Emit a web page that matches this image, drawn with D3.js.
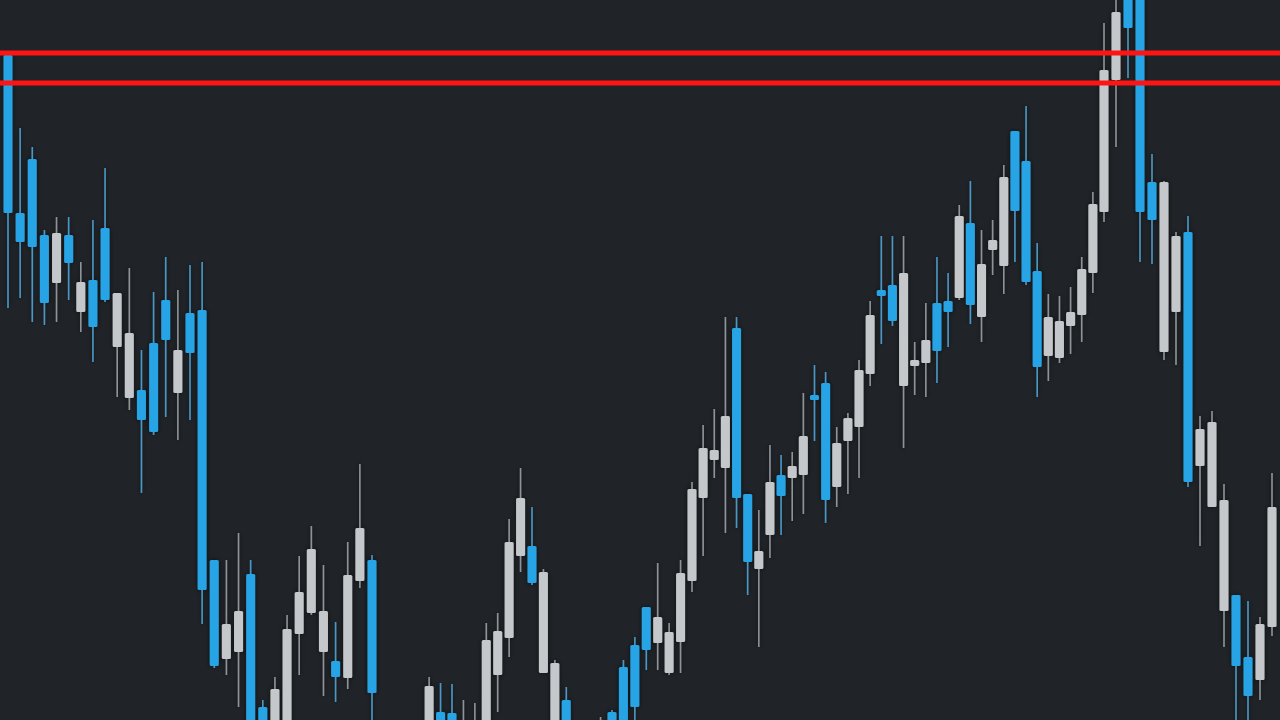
<!DOCTYPE html>
<html>
<head>
<meta charset="utf-8">
<script src="https://cdn.jsdelivr.net/npm/d3@7"></script>
<style>
  html, body { margin: 0; padding: 0; background: #202327; overflow: hidden; }
  svg { display: block; }
</style>
</head>
<body>
<svg id="chart" width="1280" height="720"></svg>
<script>
// ---- Data (price units; one entry per bar, in time order) ----
const opens = [945,787,841,765,717,765,688,720,772,653,602,610,657,700,607,687,690,440,341,348,
  426,293,260,270,366,387,348,339,322,419,440,275,235,255,232,260,288,287,240,242,
  270,325,362,444,454,327,270,300,262,230,255,288,333,355,393,357,327,358,419,502,
  540,532,672,506,431,465,525,522,525,605,617,513,559,573,626,710,715,614,634,637,
  697,699,702,777,683,750,734,869,839,729,644,642,674,685,727,788,920,1010,1020,818,
  648,688,768,534,493,389,405,343,320,373];
const highs = [945,872,853,770,783,783,738,780,832,707,732,650,708,743,710,735,738,440,440,467,
  440,300,323,385,444,474,435,378,458,536,445,278,262,262,270,323,317,316,300,297,
  377,387,481,532,493,431,340,313,275,268,283,290,340,363,393,437,377,440,518,575,
  591,683,683,506,490,555,545,548,607,635,628,573,587,640,699,764,764,764,658,697,
  743,727,795,819,770,780,835,869,894,757,706,704,713,743,808,977,1005,1015,1025,846,
  819,768,784,584,589,516,405,399,383,527];
const lows = [692,702,678,675,678,700,668,638,698,603,590,507,565,583,560,580,376,332,325,293,
  255,260,250,260,325,385,304,298,311,412,270,230,225,220,226,250,250,252,230,232,
  260,288,343,428,415,327,260,250,225,222,250,250,250,275,330,330,325,327,408,444,
  522,467,472,405,353,442,465,479,486,559,477,493,506,522,614,656,674,552,605,603,
  617,653,700,676,658,725,706,738,715,603,619,637,646,658,707,778,853,922,738,736,
  640,635,513,454,493,353,265,270,300,364];
const closes = [787,758,753,697,767,737,718,673,700,707,667,580,568,660,650,647,410,334,376,389,
  265,270,311,371,408,451,389,323,425,472,307,240,255,230,262,314,260,262,275,276,
  360,369,458,502,417,428,337,260,235,258,275,260,260,293,350,383,368,427,511,552,
  550,584,502,438,449,518,504,534,564,600,500,557,582,630,685,704,679,727,640,660,
  649,688,784,695,736,760,823,789,718,633,683,679,688,731,796,930,988,972,788,780,
  818,764,518,571,578,500,334,304,376,493];
// Horizontal resistance levels
const levels = [947, 917];

// ---- Layout ----
const W = 1280, H = 720;
const svg = d3.select("#chart");
svg.append("rect").attr("width", W).attr("height", H).attr("fill", "#202327");

const bars = opens.map((o, i) => ({ i, o, h: highs[i], l: lows[i], c: closes[i] }));
const n = bars.length;

// slightly perspective-like spacing (wider on the left)
const x = d3.scaleLinear()
  .domain([0, 30, 58, 95, n - 1])
  .range([8, 372, 692, 1104, 1272]);
const y = d3.scaleLinear().domain([280, 1000]).range([H, 0]);

const defs = svg.append("defs");
const glow = defs.append("filter").attr("id", "shadow")
  .attr("x", "-50%").attr("y", "-20%").attr("width", "200%").attr("height", "140%");
glow.append("feDropShadow").attr("dx", 0).attr("dy", 0).attr("stdDeviation", 2.5)
  .attr("flood-color", "#000").attr("flood-opacity", 0.55);

const up = "#c5c8cb", down = "#27a4e6";
const upWick = "#8d9399", downWick = "#4a97c6";
const bw = 9;

const g = svg.append("g").attr("filter", "url(#shadow)");

const candle = g.selectAll("g.candle").data(bars).join("g").attr("class", "candle");

candle.append("line")
  .attr("x1", d => x(d.i)).attr("x2", d => x(d.i))
  .attr("y1", d => y(d.h)).attr("y2", d => y(d.l))
  .attr("stroke", d => d.c >= d.o ? upWick : downWick)
  .attr("stroke-width", 1.6);

candle.append("rect")
  .attr("x", d => x(d.i) - bw / 2)
  .attr("width", bw)
  .attr("y", d => y(Math.max(d.o, d.c)))
  .attr("height", d => Math.max(2, Math.abs(y(d.o) - y(d.c))))
  .attr("rx", 1.5)
  .attr("fill", d => d.c >= d.o ? up : down);

// red horizontal levels on top
svg.selectAll("line.level").data(levels).join("line")
  .attr("class", "level")
  .attr("x1", 0).attr("x2", W)
  .attr("y1", d => y(d)).attr("y2", d => y(d))
  .attr("stroke", "#ff1414")
  .attr("stroke-width", 5);
</script>
</body>
</html>
